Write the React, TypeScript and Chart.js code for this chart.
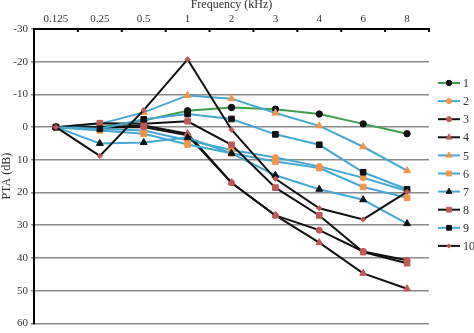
import React, { useEffect, useRef } from 'react';
import { Chart, registerables } from 'chart.js';
import * as helpers from 'chart.js/helpers';

Chart.register(...registerables);

const frequencies = ['0.125', '0.25', '0.5', '1', '2', '3', '4', '6', '8'];
const seriesNames = ['1', '2', '3', '4', '5', '6', '7', '8', '9', '10'];

const s1 = [0, 0, -2, -5, -6, -5.5, -4, -1, 2];
const s2 = [0, 0.5, 1, 4, 7, 9.3, 12, 15.5, 19.5];
const s3 = [0, 0, 0, 2.5, 17, 27, 31.5, 38, 40.7];
const s4 = [0, 0, -0.5, 2, 17, 27, 35.3, 44.7, 49.4];
const s5 = [0, -1, -4.5, -9.7, -8.7, -4.3, -0.4, 6, 13.3];
const s6 = [0, 1, 2, 5.3, 8, 10.5, 12.5, 18.3, 21.6];
const s7 = [0, 5, 4.7, 3.2, 8, 14.7, 19, 22.2, 29.5];
const s8 = [0, -1.2, -1, -1.8, 5.4, 18.5, 27, 38.2, 41.6];
const s9 = [0, 0.5, -2.4, -4, -2.5, 2.2, 5.4, 13.8, 19];
const s10 = [0, 8.8, -5.2, -20.7, 0.8, 15.8, 24.8, 28.2, 19.8];

const seriesValues = [s1, s2, s3, s4, s5, s6, s7, s8, s9, s10];

const GREEN = '#3c9e4b';
const BLUE = '#45a8d2';
const BLACK = '#111111';
const ORANGE = '#f39446';
const RED = '#c0585a';

const lineColors = [GREEN, BLUE, BLACK, BLACK, BLUE, BLUE, BLUE, BLACK, BLUE, BLACK];
const markerColors = [BLACK, ORANGE, RED, RED, ORANGE, ORANGE, BLACK, RED, BLACK, RED];
const markerStyles = ['circle', 'circle', 'circle', 'triangle', 'triangle', 'rect', 'triangle', 'rect', 'rect', 'rectRot'];
const markerRadius = [3.2, 3, 3, 4, 4, 4, 4, 4, 4, 2.6];

const FONT = '"Liberation Serif", "Times New Roman", serif';

const sideLegend = {
  id: 'sideLegend',
  afterDraw(chart: any) {
    const { ctx, chartArea } = chart;
    const x0 = chartArea.right + 9;
    const y0 = chartArea.top + 54;
    chart.data.datasets.forEach((ds: any, i: number) => {
      const y = y0 + i * 18.1;
      ctx.save();
      ctx.strokeStyle = ds.borderColor;
      ctx.lineWidth = 2;
      ctx.beginPath();
      ctx.moveTo(x0, y);
      ctx.lineTo(x0 + 22, y);
      ctx.stroke();
      ctx.fillStyle = ds.pointBackgroundColor;
      ctx.strokeStyle = ds.pointBorderColor;
      ctx.lineWidth = 1;
      helpers.drawPoint(ctx, { pointStyle: ds.pointStyle, rotation: 0, radius: ds.pointRadius * 0.85, borderWidth: 1 }, x0 + 11, y);
      ctx.fillStyle = '#333';
      ctx.font = '12px ' + FONT;
      ctx.textBaseline = 'middle';
      ctx.textAlign = 'left';
      ctx.fillText(ds.label, x0 + 25, y + 1);
      ctx.restore();
    });
  },
};

const topTicks = {
  id: 'topTicks',
  afterDraw(chart: any) {
    const { ctx, chartArea } = chart;
    const n = chart.data.labels.length;
    const w = (chartArea.right - chartArea.left) / n;
    ctx.save();
    ctx.strokeStyle = '#000';
    ctx.lineWidth = 2;
    for (let i = 1; i <= n; i++) {
      const x = chartArea.left + i * w;
      ctx.beginPath();
      ctx.moveTo(x, chartArea.top);
      ctx.lineTo(x, chartArea.top + 3);
      ctx.stroke();
    }
    ctx.restore();
  },
};

export default function App() {
  const ref = useRef<HTMLCanvasElement>(null);
  useEffect(() => {
    if (!ref.current) return;
    const chart = new Chart(ref.current, {
      type: 'line',
      data: {
        labels: frequencies,
        datasets: seriesValues.map((vals, i) => ({
          label: seriesNames[i],
          data: vals,
          borderColor: lineColors[i],
          borderWidth: 2,
          backgroundColor: markerColors[i],
          pointBackgroundColor: markerColors[i],
          pointBorderColor: markerColors[i],
          pointBorderWidth: 1,
          pointStyle: markerStyles[i],
          pointRadius: markerRadius[i],
          tension: 0,
          fill: false,
          order: seriesValues.length - i,
        })),
      },
      options: {
        animation: false,
        responsive: false,
        maintainAspectRatio: false,
        layout: { padding: { left: 0, right: 45, top: 0, bottom: 4 } },
        plugins: { legend: { display: false }, tooltip: { enabled: false } },
        scales: {
          x: {
            type: 'category',
            position: 'top',
            offset: true,
            grid: { display: false, drawTicks: false },
            border: { display: true, color: '#000', width: 2 },
            title: {
              display: true,
              text: 'Frequency (kHz)',
              color: '#333',
              font: { family: FONT, size: 12, lineHeight: 1 },
              padding: { top: -1, bottom: 0 },
            },
            ticks: { color: '#333', font: { family: FONT, size: 11 }, padding: 3, maxRotation: 0 },
            afterFit: (s: any) => { s.height = 29; },
          },
          y: {
            min: -30,
            max: 60,
            reverse: true,
            grid: { color: '#8a8a8a', lineWidth: 1.6, tickLength: 3, drawTicks: true },
            border: { display: true, color: '#000', width: 2 },
            title: {
              display: true,
              text: 'PTA (dB)',
              color: '#333',
              font: { family: FONT, size: 12 },
              padding: { top: 0, bottom: 0 },
            },
            ticks: { stepSize: 10, color: '#333', font: { family: FONT, size: 11 }, padding: 3 },
            afterFit: (s: any) => { s.width = 34; },
          },
        },
      },
      plugins: [sideLegend, topTicks],
    } as any);
    return () => chart.destroy();
  }, []);
  return (
    <div style={{ position: 'fixed', left: 0, top: 0, width: 474, height: 333, background: '#fff' }}>
      <canvas ref={ref} width={474} height={333} style={{ width: 474, height: 333, display: 'block' }} />
    </div>
  );
}
